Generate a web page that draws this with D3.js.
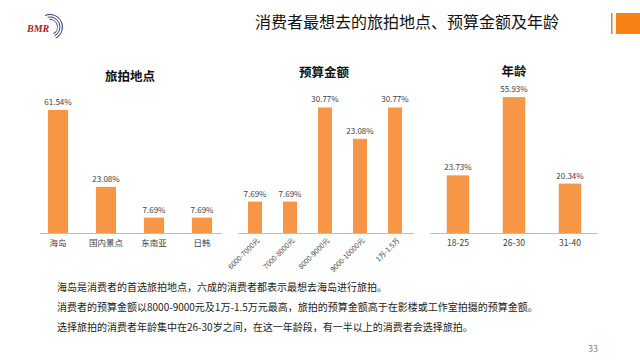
<!DOCTYPE html>
<html>
<head>
<meta charset="utf-8">
<script src="https://cdn.jsdelivr.net/npm/d3@7"></script>
<style>
  body { margin: 0; background: #fff; }
  svg { display: block; font-family: "Noto Sans CJK SC", "Noto Sans", sans-serif; }
  .val { font-size: 8px; fill: #404040; }
  .cat { font-size: 8.5px; fill: #404040; }
  .sub { font-size: 12.5px; font-weight: bold; fill: #111; }
  .note { font-size: 10px; fill: #222; }
</style>
</head>
<body>
<svg width="640" height="360"></svg>
<script>
const placeCats = ['海岛', '国内景点', '东南亚', '日韩']
const placeVals = [61.54, 23.08, 7.69, 7.69]

const budgetCats = ['6000-7000元', '7000-8000元', '8000-9000元', '9000-10000元', '1万-1.5万']
const budgetVals = [7.69, 7.69, 30.77, 23.08, 30.77]

const ageCats = ['18-25', '26-30', '31-40']
const ageVals = [23.73, 55.93, 20.34]

const notes = [
  '海岛是消费者的首选旅拍地点，六成的消费者都表示最想去海岛进行旅拍。',
  '消费者的预算金额以8000-9000元及1万-1.5万元最高，旅拍的预算金额高于在影楼或工作室拍摄的预算金额。',
  '选择旅拍的消费者年龄集中在26-30岁之间，在这一年龄段，有一半以上的消费者会选择旅拍。'
]

const orange = '#F79646'
const svg = d3.select('svg')
const base = 233

// header
svg.append('text')
  .attr('x', 407).attr('y', 28)
  .attr('text-anchor', 'middle')
  .style('font-size', '16px').style('fill', '#111')
  .text('消费者最想去的旅拍地点、预算金额及年龄')

svg.append('rect').attr('x', 611).attr('y', 13).attr('width', 1.5).attr('height', 21).attr('fill', '#D9822B')
svg.append('rect').attr('x', 616).attr('y', 13).attr('width', 24).attr('height', 21).attr('fill', '#F98012')

// logo
const logo = svg.append('g')
logo.append('text')
  .attr('x', 27).attr('y', 32)
  .style('font-family', '"Liberation Serif", serif')
  .style('font-size', '10px').style('font-weight', 'bold').style('font-style', 'italic')
  .style('fill', '#A8202A')
  .text('BMR')
;[7, 9.5, 12].forEach((r, i) => {
  logo.append('path')
    .attr('transform', 'translate(50, 27)')
    .attr('d', d3.arc()({ innerRadius: r, outerRadius: r + 0.9, startAngle: -0.1 - i * 0.15, endAngle: Math.PI * 0.85 }))
    .attr('fill', '#3B3A78')
})

function drawChart(cats, vals, opt) {
  const x = d3.scaleBand().domain(cats).range([opt.x0, opt.x1]).paddingInner(opt.pad).paddingOuter(opt.pad / 2)
  const y = d3.scaleLinear().domain([0, 100]).range([base, base - opt.pxPer * 100])
  const g = svg.append('g')

  g.append('text').attr('class', 'sub')
    .attr('x', opt.tx).attr('y', opt.ty)
    .attr('text-anchor', 'middle')
    .text(opt.title)

  g.append('line')
    .attr('x1', opt.ax0).attr('x2', opt.ax1)
    .attr('y1', base + 0.5).attr('y2', base + 0.5)
    .attr('stroke', '#B8BEC8').attr('stroke-width', 1)

  g.selectAll('rect.bar')
    .data(vals)
    .enter()
    .append('rect')
    .attr('class', 'bar')
    .attr('x', (d, i) => x(cats[i]))
    .attr('y', d => y(d))
    .attr('width', x.bandwidth())
    .attr('height', d => base - y(d))
    .attr('fill', orange)

  g.selectAll('text.val')
    .data(vals)
    .enter()
    .append('text')
    .attr('class', 'val')
    .attr('x', (d, i) => x(cats[i]) + x.bandwidth() / 2)
    .attr('y', d => y(d) - 5)
    .attr('text-anchor', 'middle')
    .text(d => d.toFixed(2) + '%')

  if (opt.rotate) {
    g.selectAll('text.cat')
      .data(cats)
      .enter()
      .append('text')
      .attr('class', 'cat')
      .style('font-size', '7px')
      .attr('text-anchor', 'end')
      .attr('transform', d => `translate(${x(d) + x.bandwidth() / 2 + 5}, ${base + 8}) rotate(-45)`)
      .text(d => d)
  } else {
    g.selectAll('text.cat')
      .data(cats)
      .enter()
      .append('text')
      .attr('class', 'cat')
      .attr('x', d => x(d) + x.bandwidth() / 2)
      .attr('y', base + 13)
      .attr('text-anchor', 'middle')
      .text(d => d)
  }
}

drawChart(placeCats, placeVals, { x0: 34, x1: 226, pad: 0.58, pxPer: 2.0, title: '旅拍地点', tx: 130, ty: 81, ax0: 40, ax1: 222 })
drawChart(budgetCats, budgetVals, { x0: 237.5, x1: 412.5, pad: 0.6, pxPer: 4.08, title: '预算金额', tx: 324, ty: 77, ax0: 238, ax1: 414, rotate: true })
drawChart(ageCats, ageVals, { x0: 430, x1: 598, pad: 0.6, pxPer: 2.43, title: '年龄', tx: 514, ty: 76, ax0: 430, ax1: 598 })

// notes
svg.selectAll('text.note')
  .data(notes)
  .enter()
  .append('text')
  .attr('class', 'note')
  .attr('x', 57)
  .attr('y', (d, i) => 291 + i * 20)
  .text(d => d)

svg.append('text')
  .attr('x', 598).attr('y', 352)
  .attr('text-anchor', 'end')
  .style('font-size', '9px').style('fill', '#888')
  .text('33')
</script>
</body>
</html>
